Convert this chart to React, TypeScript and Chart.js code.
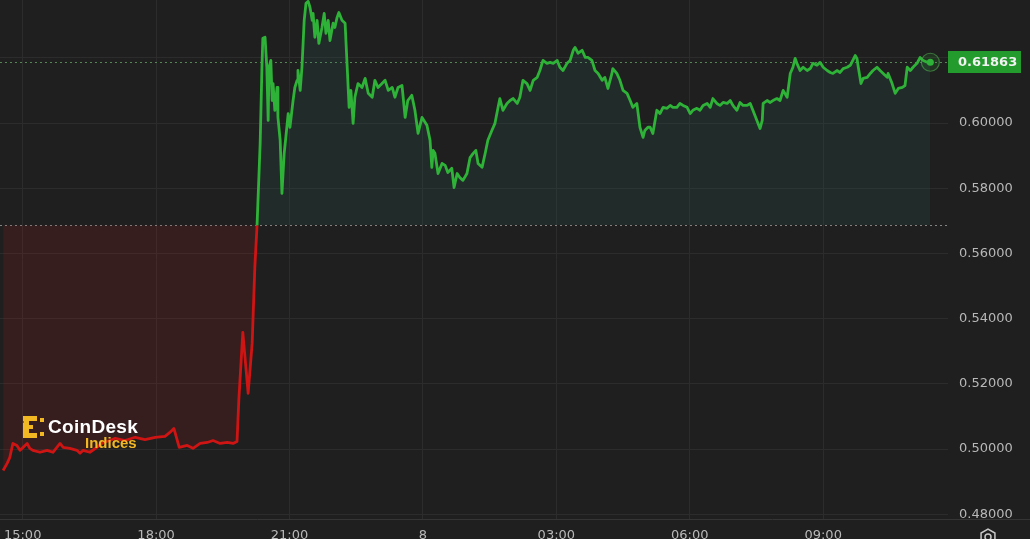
import React, { useEffect, useRef } from 'react';
import { Chart, registerables } from 'chart.js';
Chart.register(...registerables);

// hours after 15:00 (day 7)
const times = [
  -0.44, -0.35, -0.29, -0.22, -0.13, -0.06, 0.01, 0.10, 0.16, 0.23, 0.39, 0.55, 0.68, 0.84, 0.91, 1.06, 1.22, 1.29, 1.36, 1.51,
  1.67, 1.81, 1.96, 2.08, 2.30, 2.53, 2.75, 2.98, 3.20, 3.31, 3.40, 3.52, 3.70, 3.83, 3.99, 4.15, 4.28, 4.44, 4.60, 4.73,
  4.82, 4.86, 4.95, 5.07, 5.16, 5.22, 5.27,
  5.34, 5.38, 5.40, 5.45, 5.49, 5.52, 5.54, 5.58, 5.61, 5.63, 5.67, 5.72, 5.74, 5.79, 5.83, 5.88, 5.94, 5.97, 6.01, 6.08,
  6.12, 6.17, 6.19, 6.24, 6.28, 6.33, 6.37, 6.42, 6.46, 6.51, 6.53, 6.57, 6.62, 6.66, 6.73, 6.78, 6.82, 6.87, 6.91, 6.98,
  7.02, 7.07, 7.11, 7.18, 7.25, 7.29, 7.34, 7.38, 7.43, 7.47, 7.54, 7.63, 7.70, 7.77, 7.86, 7.92, 7.99, 8.08, 8.15, 8.22,
  8.31, 8.37, 8.44, 8.53, 8.60, 8.66, 8.75, 8.82, 8.89, 8.98, 9.09, 9.16, 9.20, 9.23, 9.27, 9.34, 9.43, 9.50, 9.56, 9.65,
  9.70, 9.77, 9.83, 9.90, 9.99, 10.06, 10.13, 10.19, 10.24, 10.33, 10.40, 10.46, 10.55, 10.62, 10.69, 10.73, 10.80, 10.89, 10.96, 11.03,
  11.12, 11.18, 11.25, 11.34, 11.41, 11.48, 11.57, 11.63, 11.70, 11.79, 11.86, 11.93, 12.02, 12.08, 12.15, 12.24, 12.31, 12.38, 12.42, 12.49,
  12.58, 12.65, 12.71, 12.80, 12.87, 12.94, 13.03, 13.09, 13.16, 13.25, 13.27, 13.36, 13.43, 13.50, 13.59, 13.66, 13.72, 13.81, 13.88, 13.95,
  13.99, 14.06, 14.11, 14.17, 14.26, 14.33, 14.40, 14.49, 14.56, 14.62, 14.71, 14.78, 14.85, 14.94, 15.01, 15.07, 15.16, 15.23, 15.30, 15.39,
  15.46, 15.52, 15.61, 15.68, 15.75, 15.84, 15.91, 15.97, 16.06, 16.13, 16.20, 16.29, 16.36, 16.42, 16.51, 16.58, 16.63, 16.65, 16.74, 16.81,
  16.87, 16.96, 17.03, 17.10, 17.19, 17.26, 17.32, 17.37, 17.41, 17.48, 17.55, 17.64, 17.71, 17.77, 17.86, 17.93, 18.00, 18.09, 18.16, 18.22,
  18.31, 18.38, 18.45, 18.54, 18.61, 18.72, 18.76, 18.79, 18.85, 18.90, 18.99, 19.06, 19.12, 19.21, 19.28, 19.35, 19.44, 19.46, 19.55, 19.62,
  19.69, 19.78, 19.84, 19.89, 19.96, 20.02, 20.11, 20.18, 20.25, 20.34, 20.41,
];

const prices = [
  0.4934, 0.4956, 0.4974, 0.5017, 0.5011, 0.4996, 0.5005, 0.5017, 0.5002, 0.4996, 0.4990, 0.4996, 0.4990, 0.5017, 0.5005, 0.5002, 0.4996, 0.4987, 0.4996, 0.4990,
  0.5005, 0.5020, 0.5026, 0.5033, 0.5026, 0.5036, 0.5029, 0.5036, 0.5039, 0.5051, 0.5063, 0.5005, 0.5011, 0.5002, 0.5017, 0.5020, 0.5026, 0.5017, 0.5020, 0.5017,
  0.5023, 0.5149, 0.5358, 0.5171, 0.5324, 0.5557, 0.5686,
  0.5937, 0.6171, 0.6260, 0.6263, 0.6171, 0.6008, 0.6171, 0.6192, 0.6069, 0.6121, 0.6039, 0.6109, 0.6017, 0.5947, 0.5784, 0.5907, 0.5987, 0.6029, 0.5987, 0.6069,
  0.6109, 0.6131, 0.6161, 0.6100, 0.6171, 0.6315, 0.6367, 0.6373, 0.6355, 0.6315, 0.6336, 0.6263, 0.6315, 0.6244, 0.6293, 0.6336, 0.6275, 0.6315, 0.6253, 0.6306,
  0.6293, 0.6324, 0.6339, 0.6315, 0.6306, 0.6192, 0.6048, 0.6100, 0.5999, 0.6079, 0.6121, 0.6109, 0.6137, 0.6091, 0.6079, 0.6131, 0.6109, 0.6121, 0.6131, 0.6100,
  0.6109, 0.6079, 0.6109, 0.6115, 0.6017, 0.6069, 0.6085, 0.6039, 0.5968, 0.6017, 0.5993, 0.5947, 0.5864, 0.5916, 0.5907, 0.5845, 0.5876, 0.5870, 0.5848, 0.5861,
  0.5802, 0.5845, 0.5833, 0.5824, 0.5845, 0.5894, 0.5907, 0.5916, 0.5876, 0.5864, 0.5907, 0.5947, 0.5977, 0.5999, 0.6048, 0.6075, 0.6039, 0.6060, 0.6069, 0.6075,
  0.6060, 0.6079, 0.6131, 0.6121, 0.6100, 0.6131, 0.6140, 0.6161, 0.6192, 0.6183, 0.6186, 0.6183, 0.6192, 0.6171, 0.6161, 0.6183, 0.6192, 0.6223, 0.6232, 0.6214,
  0.6223, 0.6201, 0.6201, 0.6192, 0.6161, 0.6152, 0.6131, 0.6140, 0.6106, 0.6152, 0.6167, 0.6152, 0.6131, 0.6100, 0.6091, 0.6069, 0.6048, 0.6060, 0.5987, 0.5956,
  0.5977, 0.5987, 0.5987, 0.5968, 0.6039, 0.6029, 0.6048, 0.6045, 0.6054, 0.6048, 0.6048, 0.6060, 0.6054, 0.6048, 0.6029, 0.6039, 0.6045, 0.6039, 0.6054, 0.6060,
  0.6048, 0.6075, 0.6060, 0.6054, 0.6063, 0.6060, 0.6069, 0.6054, 0.6039, 0.6063, 0.6054, 0.6054, 0.6060, 0.6039, 0.6008, 0.5983, 0.6008, 0.6060, 0.6069, 0.6063,
  0.6069, 0.6075, 0.6069, 0.6100, 0.6079, 0.6152, 0.6171, 0.6198, 0.6183, 0.6161, 0.6171, 0.6161, 0.6167, 0.6183, 0.6177, 0.6186, 0.6171, 0.6161, 0.6155, 0.6152,
  0.6161, 0.6155, 0.6167, 0.6171, 0.6177, 0.6207, 0.6198, 0.6171, 0.6121, 0.6137, 0.6140, 0.6152, 0.6161, 0.6171, 0.6161, 0.6152, 0.6140, 0.6152, 0.6121, 0.6091,
  0.6106, 0.6109, 0.6115, 0.6171, 0.6161, 0.6171, 0.6183, 0.6201, 0.6192, 0.6186, 0.61863,
];

const xTickHours = [0, 3, 6, 9, 12, 15, 18];
const xTickLabels = ['15:00', '18:00', '21:00', '8', '03:00', '06:00', '09:00'];
const yTicks = [0.48, 0.5, 0.52, 0.54, 0.56, 0.58, 0.6, 0.62];
const openPrice = 0.5686;
const lastPrice = 0.61863;

const BG = '#1f1f1f';
const GRID = '#2c2c2c';
const GREEN = '#2fb238';
const RED = '#cf1414';
const TEXT = '#b8b8b8';
const FONT = '"DejaVu Sans", sans-serif';

const overlay = {
  id: 'overlay',
  beforeDatasetsDraw(chart: any) {
    const { ctx, chartArea, scales } = chart;
    ctx.save();
    ctx.lineWidth = 1;
    const y0 = Math.round(scales.y.getPixelForValue(openPrice)) + 0.5;
    ctx.setLineDash([2, 3]);
    ctx.strokeStyle = 'rgba(150,150,150,0.85)';
    ctx.beginPath();
    ctx.moveTo(chartArea.left, y0);
    ctx.lineTo(chartArea.right, y0);
    ctx.stroke();
    const y1 = Math.round(scales.y.getPixelForValue(lastPrice)) + 0.5;
    ctx.strokeStyle = 'rgba(100,160,100,0.8)';
    ctx.beginPath();
    ctx.moveTo(chartArea.left, y1);
    ctx.lineTo(chartArea.right, y1);
    ctx.stroke();
    ctx.restore();
  },
  afterDraw(chart: any) {
    const { ctx, chartArea, scales, width } = chart;
    ctx.save();
    // bottom separator
    ctx.strokeStyle = '#353535';
    ctx.lineWidth = 1;
    ctx.beginPath();
    ctx.moveTo(0, chartArea.bottom + 0.5);
    ctx.lineTo(width, chartArea.bottom + 0.5);
    ctx.stroke();

    // last point ring
    const px = scales.x.getPixelForValue(times[times.length - 1]);
    const py = scales.y.getPixelForValue(lastPrice);
    ctx.beginPath();
    ctx.arc(px, py, 9, 0, Math.PI * 2);
    ctx.fillStyle = 'rgba(46,174,55,0.15)';
    ctx.fill();
    ctx.strokeStyle = 'rgba(80,170,80,0.6)';
    ctx.lineWidth = 1.2;
    ctx.stroke();
    ctx.beginPath();
    ctx.arc(px, py, 3.5, 0, Math.PI * 2);
    ctx.fillStyle = GREEN;
    ctx.fill();

    // price label box
    const bx = chartArea.right;
    ctx.fillStyle = '#239c2d';
    ctx.fillRect(bx, Math.round(py) - 11, 73, 22);
    ctx.fillStyle = '#f2f2f2';
    ctx.font = `bold 13px ${FONT}`;
    ctx.textBaseline = 'middle';
    ctx.textAlign = 'left';
    ctx.fillText(lastPrice.toFixed(5), bx + 10, Math.round(py) + 1);

    // gear icon
    const gx = 988, gy = 537;
    ctx.strokeStyle = '#c8c8c8';
    ctx.lineWidth = 1.5;
    ctx.beginPath();
    for (let i = 0; i < 6; i++) {
      const a = Math.PI / 6 + (i * Math.PI) / 3;
      const xx = gx + 8 * Math.cos(a);
      const yy = gy + 8 * Math.sin(a);
      if (i === 0) ctx.moveTo(xx, yy); else ctx.lineTo(xx, yy);
    }
    ctx.closePath();
    ctx.stroke();
    ctx.beginPath();
    ctx.arc(gx, gy, 3, 0, Math.PI * 2);
    ctx.stroke();

    // logo icon
    ctx.fillStyle = '#f2b824';
    ctx.fillRect(23, 416, 6, 22);
    ctx.fillRect(23, 416, 14, 5);
    ctx.fillRect(23, 433, 14, 5);
    ctx.fillRect(29, 425, 4, 4);
    ctx.fillRect(40, 418, 4, 4);
    ctx.fillRect(40, 432, 4, 4);
    ctx.fillStyle = BG;
    ctx.fillRect(23, 421.5, 1, 1);
    ctx.restore();
  },
};

export default function App() {
  const ref = useRef<HTMLCanvasElement | null>(null);
  useEffect(() => {
    if (!ref.current) return;
    const data = times.map((t, i) => ({ x: t, y: prices[i] }));
    const chart = new Chart(ref.current, {
      type: 'line',
      data: {
        datasets: [
          {
            data,
            borderWidth: 2.8,
            borderColor: GREEN,
            pointRadius: 0,
            tension: 0,
            borderJoinStyle: 'round',
            fill: {
              target: { value: openPrice },
              above: 'rgba(45,110,100,0.16)',
              below: 'rgba(170,30,30,0.17)',
            },
            segment: {
              borderColor: (c: any) =>
                c.p0.parsed.y < openPrice - 1e-9 || c.p1.parsed.y < openPrice - 1e-9 ? RED : GREEN,
            },
          } as any,
        ],
      },
      options: {
        responsive: false,
        animation: false,
        layout: { padding: 0 },
        plugins: { legend: { display: false }, tooltip: { enabled: false } },
        scales: {
          x: {
            type: 'linear',
            min: -0.51,
            max: 20.807,
            afterBuildTicks: (s: any) => {
              s.ticks = xTickHours.map((v) => ({ value: v }));
            },
            afterFit: (s: any) => {
              s.height = 20;
              s.paddingLeft = 0;
              s.paddingRight = 0;
            },
            grid: { color: GRID, drawTicks: false },
            border: { display: false },
            ticks: {
              padding: 9,
              color: TEXT,
              font: { family: FONT, size: 13 },
              maxRotation: 0,
              autoSkip: false,
              callback: (v: any) => {
                const idx = xTickHours.indexOf(Number(v));
                return idx >= 0 ? xTickLabels[idx] : '';
              },
            },
          },
          y: {
            type: 'linear',
            position: 'right',
            min: 0.47853,
            max: 0.63773,
            afterBuildTicks: (s: any) => {
              s.ticks = yTicks.map((v) => ({ value: v }));
            },
            afterFit: (s: any) => {
              s.width = 82;
              s.paddingTop = 0;
              s.paddingBottom = 0;
            },
            grid: { color: GRID, drawTicks: false },
            border: { display: false },
            ticks: {
              padding: 11,
              color: TEXT,
              font: { family: FONT, size: 13 },
              autoSkip: false,
              callback: (v: any) => Number(v).toFixed(5),
            },
          },
        },
      },
      plugins: [overlay],
    });
    return () => chart.destroy();
  }, []);

  return (
    <div
      style={{
        position: 'fixed',
        left: 0,
        top: 0,
        width: 1030,
        height: 539,
        background: BG,
        overflow: 'hidden',
      }}
    >
      <canvas ref={ref} width={1030} height={539} style={{ display: 'block' }} />
      <div
        style={{
          position: 'absolute',
          left: 48,
          top: 417,
          fontFamily: '"Liberation Sans", Arial, sans-serif',
          fontWeight: 'bold',
          fontSize: 19,
          lineHeight: '19px',
          color: '#ffffff',
          letterSpacing: 0.3,
          whiteSpace: 'nowrap',
        }}
      >
        CoinDesk
      </div>
      <div
        style={{
          position: 'absolute',
          left: 85,
          top: 435,
          fontFamily: '"Liberation Sans", Arial, sans-serif',
          fontWeight: 'bold',
          fontSize: 15,
          lineHeight: '15px',
          color: '#f2b824',
          whiteSpace: 'nowrap',
        }}
      >
        Indices
      </div>
    </div>
  );
}
